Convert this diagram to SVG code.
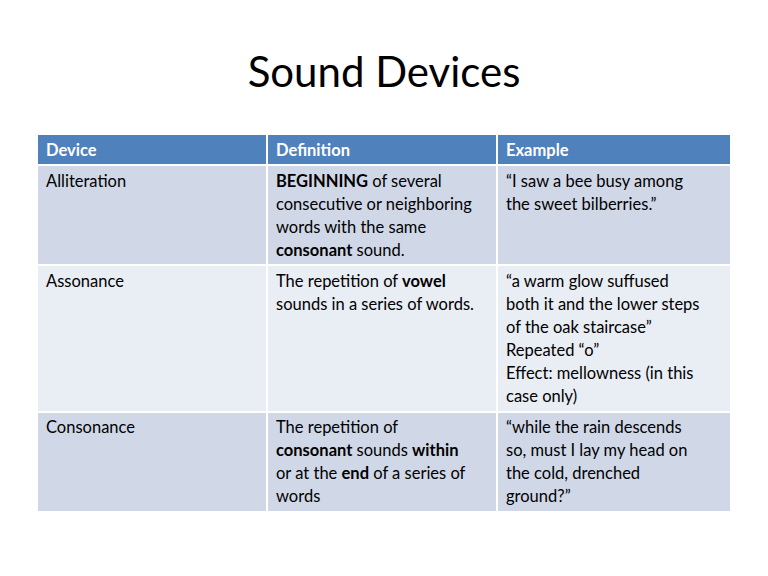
<svg xmlns="http://www.w3.org/2000/svg" width="768" height="576" viewBox="0 0 768 576">
<style>
text{font-family:Lato,"Open Sans","Liberation Sans",sans-serif;font-size:16.5px;fill:#000}
.h{fill:#fff;font-weight:bold}
.dk{fill:#D0D8E8}.lt{fill:#E9EDF4}
.sep{stroke:#fff;stroke-width:2}
b{font-weight:bold}
</style>
<rect width="768" height="576" fill="#fff"/>
<text x="384" y="87" text-anchor="middle" style="font-size:42px">Sound Devices</text>
<g id="table">
<rect x="38" y="135" width="692" height="30" fill="#4F81BD"/>
<rect class="dk" x="38" y="165" width="692" height="100"/>
<rect class="lt" x="38" y="265" width="692" height="147"/>
<rect class="dk" x="38" y="412" width="692" height="99"/>
<g class="sep">
<line x1="38" y1="165" x2="730" y2="165"/>
<line x1="38" y1="265" x2="730" y2="265"/>
<line x1="38" y1="412" x2="730" y2="412"/>
<line x1="267" y1="135" x2="267" y2="511"/>
<line x1="497" y1="135" x2="497" y2="511"/>
</g>
</g>
<g id="header">
<text class="h" x="46" y="156">Device</text>
<text class="h" x="276" y="156">Definition</text>
<text class="h" x="506" y="156">Example</text>
</g>
<g id="row1">
<text x="46" y="187">Alliteration</text>
<text x="276" y="187"><tspan font-weight="bold">BEGINNING</tspan> of several</text>
<text x="276" y="210">consecutive or neighboring</text>
<text x="276" y="233">words with the same</text>
<text x="276" y="256"><tspan font-weight="bold">consonant</tspan> sound.</text>
<text x="506" y="187">“I saw a bee busy among</text>
<text x="506" y="210">the sweet bilberries.”</text>
</g>
<g id="row2">
<text x="46" y="287">Assonance</text>
<text x="276" y="287">The repetition of <tspan font-weight="bold">vowel</tspan></text>
<text x="276" y="310">sounds in a series of words.</text>
<text x="506" y="287">“a warm glow suffused</text>
<text x="506" y="310">both it and the lower steps</text>
<text x="506" y="333">of the oak staircase”</text>
<text x="506" y="356">Repeated “o”</text>
<text x="506" y="379">Effect:  mellowness (in this</text>
<text x="506" y="402">case only)</text>
</g>
<g id="row3">
<text x="46" y="433">Consonance</text>
<text x="276" y="433">The repetition of</text>
<text x="276" y="456"><tspan font-weight="bold">consonant</tspan> sounds <tspan font-weight="bold">within</tspan></text>
<text x="276" y="479">or at the <tspan font-weight="bold">end</tspan> of a series of</text>
<text x="276" y="502">words</text>
<text x="506" y="433">“while the rain descends</text>
<text x="506" y="456">so, must I lay my head on</text>
<text x="506" y="479">the cold, drenched</text>
<text x="506" y="502">ground?”</text>
</g>
</svg>
